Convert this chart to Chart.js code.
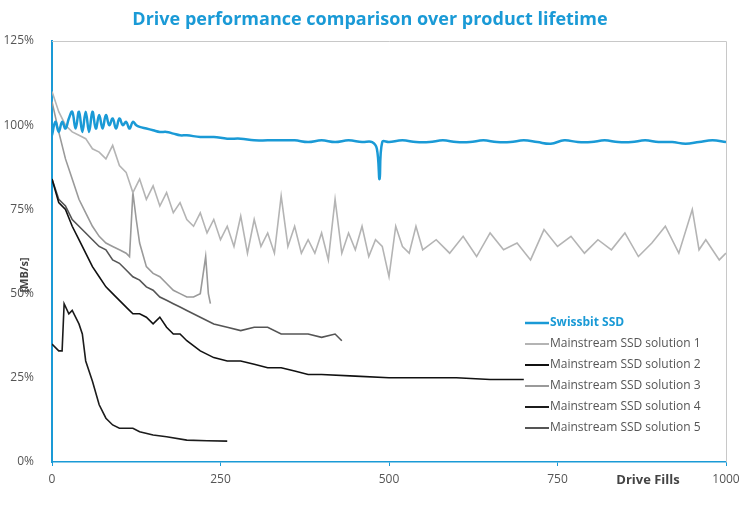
<!DOCTYPE html>
<html><head><meta charset="utf-8">
<script src="https://cdn.jsdelivr.net/npm/chart.js@4/dist/chart.umd.min.js"></script>
<style>body{margin:0;background:#fff}#w{width:750px;height:513px}</style>
</head><body><div id="w"><canvas id="c"></canvas></div>
<script>
const swissX=[0,5,10,15,20,25,30,35,40,45,50,55,60,65,70,75,80,85,90,95,100,105,110,115,120,125,130,140,150,160,170,180,190,200,220,240,260,280,300,320,340,360,380,400,420,440,460,475,482,486,490,500,520,540,560,580,600,620,640,660,680,700,720,740,760,780,800,820,840,860,880,900,920,940,960,980,1000];
const swissY=[97,101,98,101,99,102,104,99,104,98,104,98,104,99,103,99,103,100,102,99,102,100,101,99,101,100,99.5,99,98.5,98,98,97.5,97,97,96.5,96.5,96,96,95.5,95.5,95.5,95.5,95,95.5,95,95.5,95,95,93,84,95,95,95.5,95,95,95.5,95,95,95.5,95,95,95.5,95,94.5,95.5,95,95,95.5,95,95,95.5,95,95,94.5,95,95.5,95];
const s1X=[0,10,20,30,40,50,60,70,80,90,100,110,120,130,140,150,160,170,180,190,200,210,220,230,240,250,260,270,280,290,300,310,320,330,340,350,360,370,380,390,400,410,420,430,440,450,460,470,480,490,500,510,520,530,540,550,570,590,610,630,650,670,690,710,730,750,770,790,810,830,850,870,890,910,930,950,960,970,990,1000];
const s1Y=[110,104,100,98,97,96,93,92,90,94,88,86,80,84,78,82,76,80,74,77,72,70,74,68,72,66,70,64,73,62,72,64,68,62,79,64,70,62,66,62,68,60,78,62,68,63,70,61,66,64,55,70,64,62,70,63,66,62,67,61,68,63,65,60,69,64,67,62,66,63,68,61,65,70,62,75,63,66,60,62];
const s2X=[0,10,20,30,40,50,60,70,80,90,100,110,120,130,140,150,160,170,180,190,200,220,240,260,280,300,320,340,360,380,400,450,500,550,600,650,700];
const s2Y=[84,77,75,70,66,62,58,55,52,50,48,46,44,44,43,41,43,40,38,38,36,33,31,30,30,29,28,28,27,26,26,25.5,25,25,25,24.5,24.5];
const s3X=[0,10,20,30,40,50,60,70,80,90,100,110,115,120,125,130,140,150,160,170,180,190,200,210,220,228,232,235];
const s3Y=[107,98,90,84,78,74,70,67,65,64,63,62,61,80,72,65,58,56,55,53,51,50,49,49,50,61,50,47];
const s4X=[0,10,15,18,25,30,40,45,50,60,70,80,90,100,120,130,150,170,200,230,260];
const s4Y=[35,33,33,47,44,45,41,38,30,24,17,13,11,10,10,9,8,7.5,6.5,6.3,6.2];
const s5X=[0,10,20,30,40,50,60,70,80,90,100,110,120,130,140,150,160,170,180,190,200,220,240,260,280,300,320,340,360,380,400,420,430];
const s5Y=[84,78,76,72,70,68,66,64,63,60,59,57,55,54,52,51,49,48,47,46,45,43,41,40,39,40,40,38,38,38,37,38,36];
const yTicks=[0,25,50,75,100,125];
const xTicks=[0,250,500,750,1000];
const names=['Swissbit SSD','Mainstream SSD solution 1','Mainstream SSD solution 2','Mainstream SSD solution 3','Mainstream SSD solution 4','Mainstream SSD solution 5'];
const cols=['#1a9ad6','#b4b4b4','#111111','#9a9a9a','#1c1c1c','#555555'];
const widths=[2.5,1.6,1.6,1.6,1.6,1.6];
const series=[[swissX,swissY],[s1X,s1Y],[s2X,s2Y],[s3X,s3Y],[s4X,s4Y],[s5X,s5Y]];
const F='"Open Sans", sans-serif';
const deco={id:'deco',afterDraw(ch){const c=ch.ctx,a=ch.chartArea;c.save();
c.strokeStyle='#c8c8c8';c.lineWidth=1;c.beginPath();c.moveTo(a.left,a.top+.5);c.lineTo(a.right+.5,a.top+.5);c.lineTo(a.right+.5,a.bottom);c.stroke();
c.fillStyle='#1a9ad6';c.font='bold 18px '+F;c.textAlign='center';c.textBaseline='middle';c.fillText('Drive performance comparison over product lifetime',370,20);
c.fillStyle='#444';c.font='bold 13px '+F;c.fillText('Drive Fills',648,480);
c.save();c.translate(25,275);c.rotate(-Math.PI/2);c.font='bold 11px '+F;c.fillText('[MB/s]',0,0);c.restore();
c.textAlign='left';for(let i=0;i<6;i++){const y=323+i*21;c.strokeStyle=cols[i];c.lineWidth=i==0?2.5:2;c.beginPath();c.moveTo(525,y);c.lineTo(549,y);c.stroke();
c.fillStyle=i==0?'#1a9ad6':'#555';c.font=(i==0?'bold ':'')+'12px '+F;c.fillText(names[i],550,y);}
c.restore();}};
new Chart(document.getElementById('c'),{type:'line',
data:{datasets:series.map((s,i)=>({label:names[i],data:s[0].map((x,j)=>({x,y:s[1][j]})),borderColor:cols[i],borderWidth:widths[i],pointRadius:0,tension:i==0?0.4:0,order:i==0?-1:i}))},
options:{responsive:true,maintainAspectRatio:false,animation:false,
layout:{padding:{left:0,right:24,top:41,bottom:0}},
plugins:{legend:{display:false},tooltip:{enabled:false}},
scales:{x:{type:'linear',min:0,max:1000,afterFit(s){s.height=51},afterBuildTicks(s){s.ticks=xTicks.map(v=>({value:v}))},
grid:{drawOnChartArea:false,tickLength:4,color:'#1a9ad6'},border:{color:'#1a9ad6',width:1.5},ticks:{color:'#555',font:{family:F,size:12},padding:6,callback:v=>String(v)}},
y:{min:0,max:125,afterFit(s){s.width=52},afterBuildTicks(s){s.ticks=yTicks.map(v=>({value:v}))},
grid:{display:false},border:{color:'#1a9ad6',width:2},ticks:{color:'#555',font:{family:F,size:12},padding:10,callback:v=>v+'%'}}}},
plugins:[deco]});
</script></body></html>
